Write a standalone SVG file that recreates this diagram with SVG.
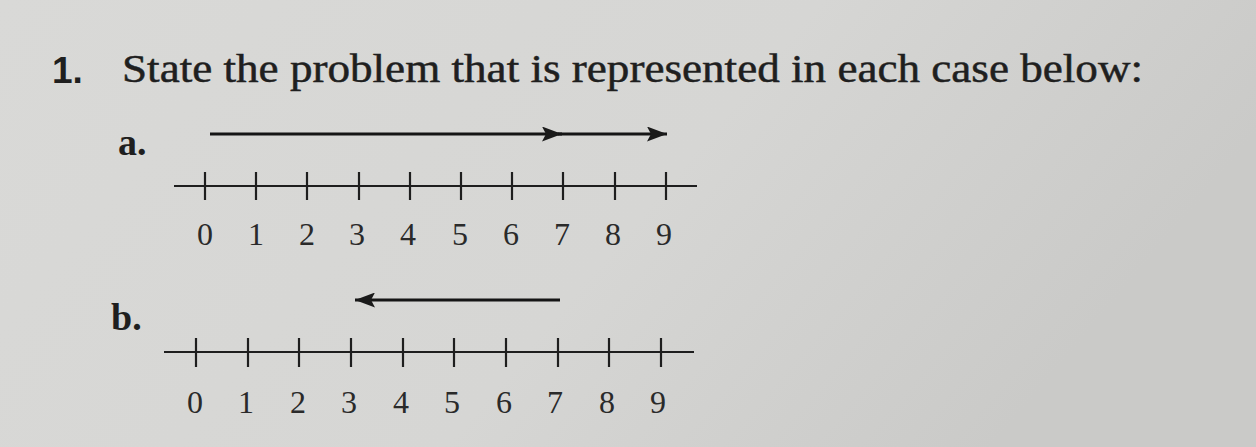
<svg xmlns="http://www.w3.org/2000/svg" width="1256" height="447" viewBox="0 0 1256 447">
  <defs>
    <linearGradient id="bg" x1="0" y1="0" x2="1" y2="0.3">
      <stop offset="0" stop-color="#d9d9d7"/>
      <stop offset="0.6" stop-color="#d6d6d4"/>
      <stop offset="1" stop-color="#cacac8"/>
    </linearGradient>
    <marker id="ah" viewBox="0 0 20 15" refX="20" refY="7.5" markerWidth="21" markerHeight="15" markerUnits="userSpaceOnUse" orient="auto">
      <path d="M0,0 L20,7.5 L0,15 L4,7.5 Z" fill="#1a1a1a"/>
    </marker>
    <style>
      .axis { stroke: #1e1e1e; stroke-width: 2.2; fill: none; }
      .tick { stroke: #1e1e1e; stroke-width: 2.2; }
      .arr { stroke: #151515; stroke-width: 3; fill: none; }
      .num { font-family: "Liberation Serif", "DejaVu Serif", serif; font-size: 32px; fill: #2a2a2a; text-anchor: middle; }
      .title { font-family: "Liberation Serif", "DejaVu Serif", serif; font-size: 40px; fill: #1f1f1f; stroke: #1f1f1f; stroke-width: 0.5; }
      .lbl { font-family: "Liberation Serif", "DejaVu Serif", serif; font-size: 38px; font-weight: bold; fill: #1f1f1f; }
    </style>
  </defs>
  <rect width="1256" height="447" fill="url(#bg)"/>

  <g id="heading">
    <text x="52" y="83" font-family="Liberation Sans, DejaVu Sans, sans-serif" font-weight="bold" font-size="37" fill="#1f1f1f">1.</text>
    <text class="title" x="122" y="82" textLength="1021" lengthAdjust="spacingAndGlyphs">State the problem that is represented in each case below:</text>
  </g>

  <g id="label-a"><text class="lbl" x="118" y="155">a.</text></g>
  <g id="label-b"><text class="lbl" x="111" y="330">b.</text></g>

  <g id="numberline-a">
    <line class="axis" x1="174" y1="186" x2="697" y2="186"/>
    <g class="tick">
      <line x1="205" y1="172" x2="205" y2="200"/>
      <line x1="256" y1="172" x2="256" y2="200"/>
      <line x1="307" y1="172" x2="307" y2="200"/>
      <line x1="359" y1="172" x2="359" y2="200"/>
      <line x1="410" y1="172" x2="410" y2="200"/>
      <line x1="461" y1="172" x2="461" y2="200"/>
      <line x1="512" y1="172" x2="512" y2="200"/>
      <line x1="563" y1="172" x2="563" y2="200"/>
      <line x1="615" y1="172" x2="615" y2="200"/>
      <line x1="666" y1="172" x2="666" y2="200"/>
    </g>
    <text class="num" x="205" y="245">0</text>
    <text class="num" x="256" y="245">1</text>
    <text class="num" x="307" y="245">2</text>
    <text class="num" x="357" y="245">3</text>
    <text class="num" x="408" y="245">4</text>
    <text class="num" x="460" y="245">5</text>
    <text class="num" x="511" y="245">6</text>
    <text class="num" x="562" y="245">7</text>
    <text class="num" x="613" y="245">8</text>
    <text class="num" x="664" y="245">9</text>
  </g>

  <g id="numberline-b">
    <line class="axis" x1="164" y1="352" x2="694" y2="352"/>
    <g class="tick">
      <line x1="196" y1="338" x2="196" y2="367"/>
      <line x1="248" y1="338" x2="248" y2="367"/>
      <line x1="299" y1="338" x2="299" y2="367"/>
      <line x1="351" y1="338" x2="351" y2="367"/>
      <line x1="403" y1="338" x2="403" y2="367"/>
      <line x1="454" y1="338" x2="454" y2="367"/>
      <line x1="506" y1="338" x2="506" y2="367"/>
      <line x1="558" y1="338" x2="558" y2="367"/>
      <line x1="609" y1="338" x2="609" y2="367"/>
      <line x1="661" y1="338" x2="661" y2="367"/>
    </g>
    <text class="num" x="195" y="413">0</text>
    <text class="num" x="246" y="413">1</text>
    <text class="num" x="298" y="413">2</text>
    <text class="num" x="349" y="413">3</text>
    <text class="num" x="401" y="413">4</text>
    <text class="num" x="452" y="413">5</text>
    <text class="num" x="504" y="413">6</text>
    <text class="num" x="555" y="413">7</text>
    <text class="num" x="607" y="413">8</text>
    <text class="num" x="658" y="413">9</text>
  </g>

  <g id="connectors">
    <line class="arr" x1="210" y1="134" x2="562" y2="134" marker-end="url(#ah)"/>
    <line class="arr" x1="558" y1="134" x2="667" y2="134" marker-end="url(#ah)"/>
    <line class="arr" x1="560" y1="300" x2="355" y2="300" marker-end="url(#ah)"/>
  </g>
</svg>
